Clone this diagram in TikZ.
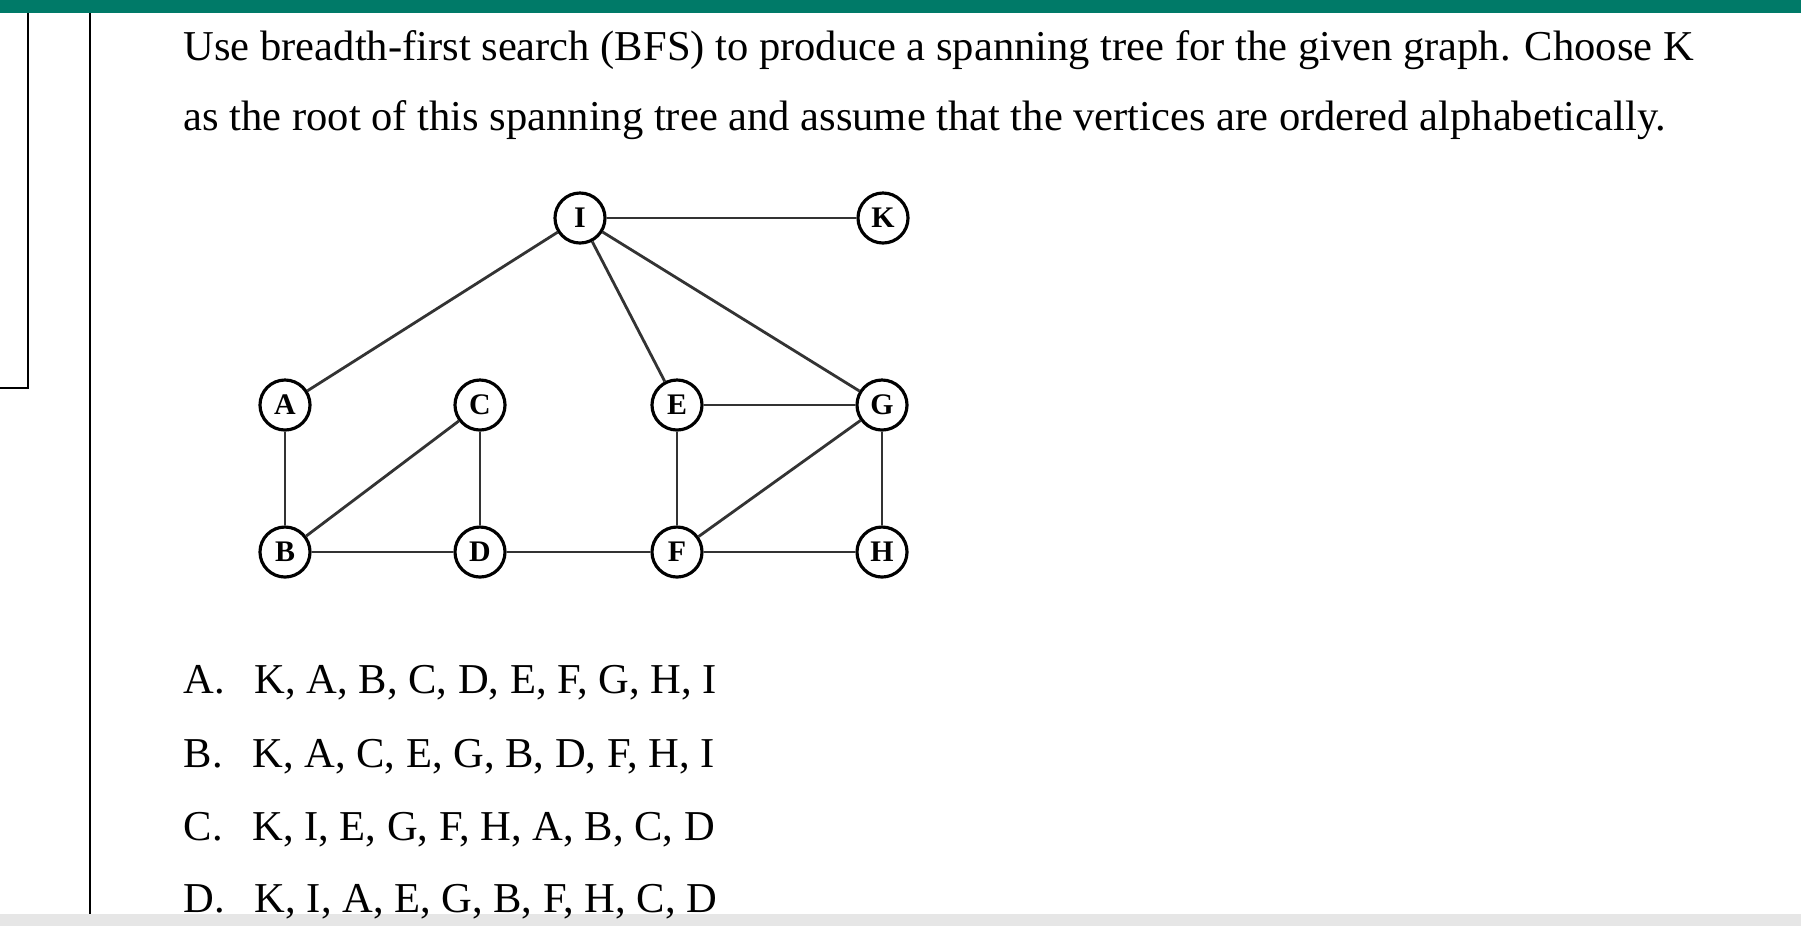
\documentclass[tikz,border=0pt]{standalone}
\usepackage{fontspec}
\setmainfont{Liberation Serif}
\definecolor{teal1}{HTML}{007A68}
\definecolor{graybar}{HTML}{E6E6E6}
\begin{document}
\begin{tikzpicture}[x=0.01cm,y=-0.01cm,
  vtx/.style={circle,draw,line width=0.9pt,minimum size=0.5cm,inner sep=0pt,font=\fontsize{8.5}{8.5}\selectfont\bfseries},
  edge/.style={line width=0.8pt,draw=black!80},
  txt/.style={anchor=base west,inner sep=0pt,font=\fontsize{12.1}{14}\selectfont}]
\useasboundingbox (0,0) rectangle (1801,926);
\fill[white] (0,0) rectangle (1801,926);
\fill[teal1] (0,0) rectangle (1801,13);
\fill[graybar] (0,914) rectangle (1801,926);
\draw[line width=0.6pt] (28,13) -- (28,388) -- (0,388);
\draw[line width=0.6pt] (90,13) -- (90,914);
\node[txt] (l1) at (183,60) {Use breadth-first search (BFS) to produce a spanning tree for the given graph. Choose K};
\node[txt] (l2) at (183,130) {as the root of this spanning tree and assume that the vertices are ordered alphabetically.};
\node[vtx] (I) at (580,218) {I};
\node[vtx] (K) at (883,218) {K};
\node[vtx] (A) at (285,405) {A};
\node[vtx] (C) at (480,405) {C};
\node[vtx] (E) at (677,405) {E};
\node[vtx] (G) at (882,405) {G};
\node[vtx] (B) at (285,552) {B};
\node[vtx] (D) at (480,552) {D};
\node[vtx] (F) at (677,552) {F};
\node[vtx] (H) at (882,552) {H};
\foreach \a/\b in {I/K,I/A,I/E,I/G,A/B,B/C,C/D,B/D,D/F,E/F,E/G,F/G,G/H,F/H}
  \draw[edge] (\a) -- (\b);
\node[txt] (oa) at (183,693) {A.\hspace{0.7em}K, A, B, C, D, E, F, G, H, I};
\node[txt] (ob) at (183,767) {B.\hspace{0.7em}K, A, C, E, G, B, D, F, H, I};
\node[txt] (oc) at (183,840) {C.\hspace{0.7em}K, I, E, G, F, H, A, B, C, D};
\node[txt] (od) at (183,912) {D.\hspace{0.7em}K, I, A, E, G, B, F, H, C, D};
\end{tikzpicture}
\end{document}
